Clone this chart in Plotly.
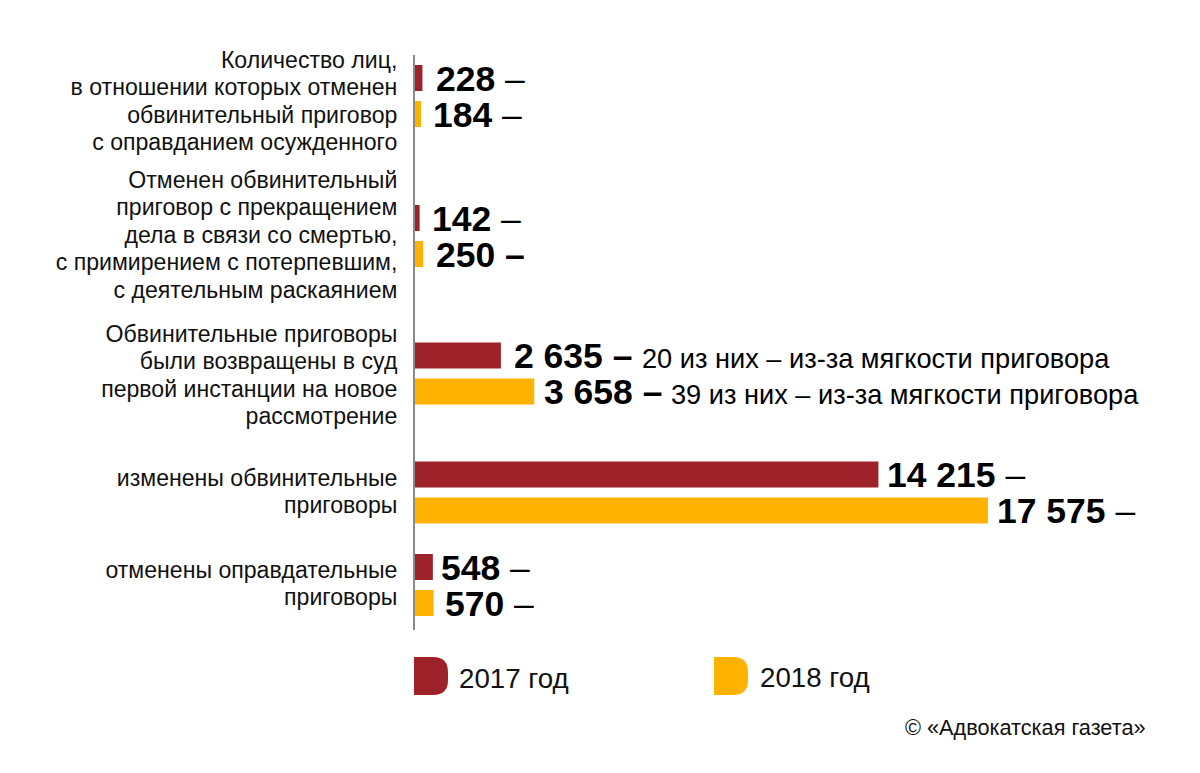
import plotly.graph_objects as go

category_lines = [
    ["Количество лиц,", "в отношении которых отменен", "обвинительный приговор", "с оправданием осужденного"],
    ["Отменен обвинительный", "приговор с прекращением", "дела в связи со смертью,", "с примирением с потерпевшим,", "с деятельным раскаянием"],
    ["Обвинительные приговоры", "были возвращены в суд", "первой инстанции на новое", "рассмотрение"],
    ["изменены обвинительные", "приговоры"],
    ["отменены оправдательные", "приговоры"],
]
values_2017 = [228, 142, 2635, 14215, 548]
values_2018 = [184, 250, 3658, 17575, 570]
labels_2017 = ["228", "142", "2 635", "14 215", "548"]
labels_2018 = ["184", "250", "3 658", "17 575", "570"]
notes_2017 = ["", "", "20 из них – из-за мягкости приговора", "", ""]
notes_2018 = ["", "", "39 из них – из-за мягкости приговора", "", ""]
bold_dash_2017 = [False, False, True, False, False]
bold_dash_2018 = [False, True, True, False, False]
series_names = ["2017 год", "2018 год"]

# layout helpers (pixels of the 1200x773 page)
W, H = 1200, 773
AX_X, AX_TOP, AX_BOTTOM = 415, 55, 630
PX_PER_UNIT = 0.0326
ROW = 36.0
GROUP_CENTERS_PX = [96, 236, 373.5, 492.5, 585]
LINE_TOPS_PX = [60, 180, 334, 478, 570]
LINE_PITCH = 27.4
TEXT_X_2017 = [436, 432, 514, 887, 441]
TEXT_X_2018 = [433, 436, 544, 997, 445]
NOTE_X_2017 = 642
NOTE_X_2018 = 671
DARK, GOLD = "#9E2229", "#FFB300"
FONT = "Liberation Sans"

to_row = lambda px: (px - GROUP_CENTERS_PX[0]) / ROW
centers = [to_row(p) for p in GROUP_CENTERS_PX]
y_2017 = [c - 0.5 for c in centers]
y_2018 = [c + 0.5 for c in centers]

fig = go.Figure()
for name, ys, xs, col in [(series_names[0], y_2017, values_2017, DARK),
                          (series_names[1], y_2018, values_2018, GOLD)]:
    fig.add_bar(x=xs, y=ys, name=name, orientation="h", width=26 / ROW,
                marker=dict(color=col, line=dict(width=0)), showlegend=False)

annotations = []
def value_labels(ys, vals, labs, notes, bolds, xs_px, note_x):
    for y, v, lab, note, b, px in zip(ys, vals, labs, notes, bolds, xs_px):
        end = AX_X + v * PX_PER_UNIT
        dash = "<b>–</b>" if b else "–"
        annotations.append(dict(x=v, y=y, xref="x", yref="y", text=f"<b>{lab}</b> {dash}",
                                showarrow=False, xanchor="left", yanchor="middle",
                                xshift=px - end, yshift=-0.8, align="left",
                                borderpad=0, borderwidth=0,
                                font=dict(family=FONT, size=35.5, color="#000")))
        if note:
            annotations.append(dict(x=v, y=y, xref="x", yref="y", text=note, showarrow=False,
                                    xanchor="left", yanchor="middle",
                                    xshift=note_x - end, yshift=-2.5, align="left",
                                    borderpad=0, borderwidth=0,
                                    font=dict(family=FONT, size=27.2, color="#000")))
value_labels(y_2017, values_2017, labels_2017, notes_2017, bold_dash_2017, TEXT_X_2017, NOTE_X_2017)
value_labels(y_2018, values_2018, labels_2018, notes_2018, bold_dash_2018, TEXT_X_2018, NOTE_X_2018)

def legend_item(x0, color, text, tx, ty):
    x1 = x0 + 34
    top, bot = 657, 695
    r = 15
    p = lambda x, y: f"{x / W:.5f},{1 - y / H:.5f}"
    path = (f"M {p(x0, top)} L {p(x1 - r, top)} Q {p(x1, top)} {p(x1, top + r)} "
            f"L {p(x1, bot - r)} Q {p(x1, bot)} {p(x1 - r, bot)} L {p(x0, bot)} Z")
    annotations.append(dict(x=tx / W, y=1 - ty / H, xref="paper", yref="paper", text=text,
                            showarrow=False, xanchor="left", yanchor="middle",
                            font=dict(family=FONT, size=27.7, color="#111")))
    return dict(type="path", xref="paper", yref="paper", path=path,
                fillcolor=color, line=dict(width=0))

shapes = [legend_item(414, DARK, series_names[0], 457, 678),
          legend_item(714, GOLD, series_names[1], 758, 677)]

annotations.append(dict(x=1148 / W, y=1 - 727 / H, xref="paper", yref="paper",
                        text="© «Адвокатская газета»", showarrow=False,
                        xanchor="right", yanchor="middle",
                        font=dict(family=FONT, size=21.7, color="#111")))

tick_vals, tick_text = [], []
for top, lines in zip(LINE_TOPS_PX, category_lines):
    for i, line in enumerate(lines):
        tick_vals.append(to_row(top + i * LINE_PITCH))
        tick_text.append(line)

fig.update_layout(
    width=W, height=H, margin=dict(l=0, r=0, t=0, b=0), autosize=False,
    paper_bgcolor="white", plot_bgcolor="white", barmode="overlay",
    annotations=annotations, shapes=shapes, font=dict(family=FONT),
    xaxis=dict(domain=[AX_X / W, 1], range=[0, (W - AX_X) / PX_PER_UNIT],
               visible=False, fixedrange=True),
    yaxis=dict(domain=[1 - AX_BOTTOM / H, 1 - AX_TOP / H],
               range=[to_row(AX_BOTTOM), to_row(AX_TOP)],
               anchor="x", showgrid=False, zeroline=False, showline=True,
               linecolor="#8A8A8A", linewidth=2, ticks="outside", ticklen=11,
               tickcolor="rgba(0,0,0,0)", tickmode="array",
               tickvals=tick_vals, ticktext=tick_text,
               tickfont=dict(family=FONT, size=23.1, color="#111"), automargin=False),
)

fig.write_html("out.html", config=dict(displayModeBar=False),
               post_script="document.body.style.margin='0';document.body.style.overflow='hidden';")
